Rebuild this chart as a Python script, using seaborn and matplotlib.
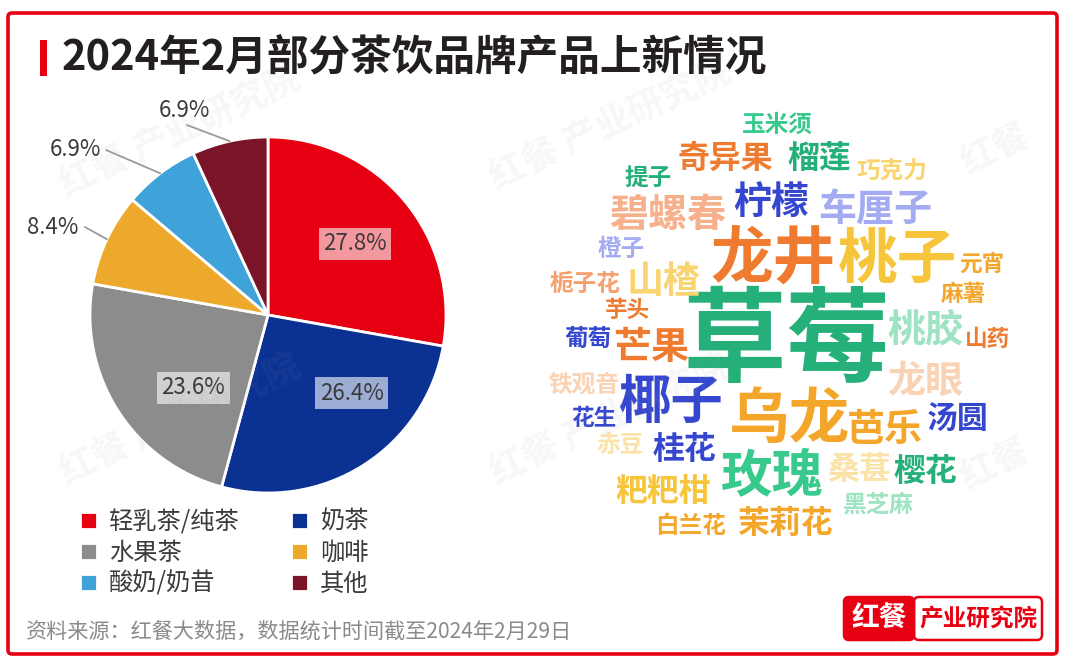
import matplotlib.pyplot as plt
import matplotlib.patches as mpatches
import numpy as np
import seaborn as sns

# pie data
categories = ["轻乳茶/纯茶", "奶茶", "水果茶", "咖啡", "酸奶/奶昔", "其他"]
shares = [27.8, 26.4, 23.6, 8.4, 6.9, 6.9]
slice_colors = ["#E60012", "#0B3192", "#8C8C8C", "#EDA92B", "#3FA2D8", "#7A1429"]

# word cloud data
words = ["草莓", "龙井", "桃子", "乌龙", "椰子", "玫瑰", "柠檬", "车厘子", "碧螺春",
         "山楂", "芒果", "桃胶", "龙眼", "芭乐", "奇异果", "榴莲", "桂花", "汤圆",
         "桑葚", "樱花", "茉莉花", "粑粑柑", "玉米须", "巧克力", "提子", "橙子",
         "元宵", "栀子花", "麻薯", "芋头", "山药", "葡萄", "铁观音", "花生", "赤豆",
         "黑芝麻", "白兰花"]
word_weights = [101, 61, 58, 59, 51, 50, 37, 37, 38,
                36, 37, 37, 37, 37, 31, 31, 31, 30,
                31, 31, 31, 31, 23, 23, 23, 23,
                22, 23, 22, 22, 22, 23, 23, 22, 23,
                23, 23]

GREEN, GREEN2, MINT = "#25B07A", "#38C98C", "#9EE3C2"
ORANGE, ORANGE2, PEACH, PALE_PEACH = "#EF7B30", "#F5A06E", "#F6B08C", "#FAD2B4"
GOLD, YELLOW, LIGHT_YELLOW, PALE_YELLOW = "#F4A62A", "#F6C53C", "#F9D470", "#FBE2A8"
BLUE, LAVENDER = "#3547CF", "#A4ABF3"
word_colors = [GREEN, ORANGE, YELLOW, GOLD, BLUE, GREEN2, BLUE, LAVENDER, PEACH,
               LIGHT_YELLOW, ORANGE, MINT, PALE_PEACH, GOLD, ORANGE, GREEN, BLUE, BLUE,
               PALE_YELLOW, GREEN, GOLD, YELLOW, GREEN2, LIGHT_YELLOW, GREEN, LAVENDER,
               GOLD, ORANGE2, GOLD, ORANGE, ORANGE, BLUE, PALE_PEACH, BLUE, PALE_YELLOW,
               MINT, GOLD]
# layout of the cloud (pixel centres)
word_xy = [(786, 335), (773, 254), (897, 257), (790, 416), (670, 399), (772, 472),
           (771, 200), (875, 207), (668, 213), (664, 280), (651, 345), (925, 327),
           (925, 379), (885, 427), (725, 157), (819, 157), (684, 448), (958, 418),
           (859, 468), (925, 470), (785, 522), (663, 490), (777, 123), (892, 170),
           (648, 177), (621, 247), (982, 263), (585, 282), (963, 293), (627, 309),
           (988, 338), (588, 337), (584, 383), (594, 417), (620, 443), (878, 503),
           (691, 524)]

sns.set_theme(style="white")
plt.rcParams["font.family"] = ["Noto Sans CJK SC", "DejaVu Sans"]

W, H = 1066, 666
RED = "#E60012"
fig = plt.figure(figsize=(W / 100, H / 100), dpi=100)

# background axes in pixel units
bg = fig.add_axes([0, 0, 1, 1])
bg.set_xlim(0, W)
bg.set_ylim(H, 0)
bg.axis("off")

bg.add_patch(mpatches.FancyBboxPatch((8, 13), 1049, 641, boxstyle="round,pad=0,rounding_size=4",
                                     fill=False, ec=RED, lw=2.6))
bg.add_patch(mpatches.Rectangle((40, 40), 7, 36, color=RED, lw=0))
bg.text(62, 58, "2024年2月部分茶饮品牌产品上新情况", fontsize=30, weight="bold",
        color="#231F20", va="center", ha="left")
bg.text(26, 632, "资料来源：红餐大数据，数据统计时间截至2024年2月29日", fontsize=15.2,
        color="#8A8A8A", va="center", ha="left")

# logo
bg.add_patch(mpatches.FancyBboxPatch((914, 597), 128, 43, boxstyle="round,pad=0,rounding_size=5",
                                     fc="white", ec=RED, lw=1.8))
bg.add_patch(mpatches.FancyBboxPatch((844, 597), 70, 43, boxstyle="round,pad=0,rounding_size=5",
                                     fc=RED, ec=RED, lw=1.8))
bg.text(879, 619, "红餐", fontsize=20, weight="bold", color="white", ha="center", va="center")
bg.text(978, 619, "产业研究院", fontsize=17, weight="bold", color=RED, ha="center", va="center")

# word cloud
for w, s, c, (x, y) in zip(words, word_weights, word_colors, word_xy):
    bg.text(x, y + 0.075 * s, w, fontsize=s * 0.74, color=c, weight="bold",
            ha="center", va="center")

# pie
R = 178
cx, cy = 268, 315
span = 1.4
ax = fig.add_axes([(cx - span * R) / W, (H - cy - span * R) / H, 2 * span * R / W, 2 * span * R / H])
wedges, _ = ax.pie(shares, colors=slice_colors, startangle=90, counterclock=False, radius=1,
                   wedgeprops=dict(edgecolor="white", linewidth=2))
ax.set_xlim(-span, span)
ax.set_ylim(-span, span)
ax.axis("off")

inside_pos = {0: (0.49, 0.40), 1: (0.47, -0.44), 2: (-0.42, -0.41)}
for i, (x, y) in inside_pos.items():
    ax.text(x, y, f"{shares[i]:.1f}%", fontsize=16, color="#3A3A3A", ha="center", va="center",
            bbox=dict(boxstyle="square,pad=0.2", fc="white", ec="none", alpha=0.6))

outside_text = {3: (-1.21, 0.49), 4: (-1.08, 0.93), 5: (-0.47, 1.15)}
outside_line = {3: (-1.028, 0.494), 4: (-0.91, 0.927), 5: (-0.455, 1.067)}
for i, (x, y) in outside_text.items():
    w = wedges[i]
    th = np.deg2rad((w.theta1 + w.theta2) / 2)
    lx, ly = outside_line[i]
    ax.plot([lx, np.cos(th)], [ly, np.sin(th)], color="#9A9A9A", lw=1.3, clip_on=False)
    ax.text(x, y, f"{shares[i]:.1f}%", fontsize=16, color="#3A3A3A", ha="center", va="center")

order = [0, 2, 4, 1, 3, 5]
fig.legend([wedges[i] for i in order], [categories[i] for i in order], ncol=2,
           loc="upper left", bbox_to_anchor=(80 / W, 1 - 509 / H), frameon=False,
           fontsize=17.5, labelcolor="#3C3C3C", handlelength=0.7, handleheight=0.7,
           handletextpad=0.5, columnspacing=2.1, labelspacing=0.2, borderpad=0,
           borderaxespad=0)

# faint watermarks
for (x, y, txt) in [(180, 132, "红餐 产业研究院"), (610, 125, "红餐 产业研究院"),
                    (995, 150, "红餐"), (610, 420, "红餐 产业研究院"),
                    (180, 420, "红餐 产业研究院"), (995, 465, "红餐")]:
    fig.text(x / W, 1 - y / H, txt, fontsize=26, weight="bold", color="#9A9A9A",
             alpha=0.08, rotation=25, ha="center", va="center")

fig.savefig("out.png", dpi=100)
